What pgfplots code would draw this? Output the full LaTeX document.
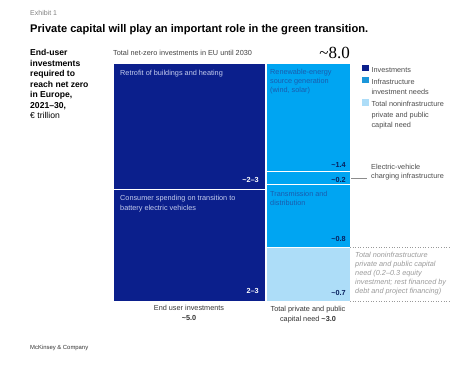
\documentclass[border=0pt]{standalone}
\usepackage{fontspec}
\setmainfont{Liberation Sans}
\newfontfamily\seriffont{Liberation Serif}
\usepackage{pgfplots}
\pgfplotsset{compat=1.18}
\definecolor{navy}{HTML}{0B1F8C}
\definecolor{cyanb}{HTML}{00A5F2}
\definecolor{lightb}{HTML}{ADDDF8}
\definecolor{legb}{HTML}{1B97DA}
\definecolor{txtin}{HTML}{C5CDEE}
\definecolor{txtblue}{HTML}{1A5CAD}
\definecolor{valdark}{HTML}{08205E}
\definecolor{anngray}{HTML}{9A9A9A}
\newcommand{\sm}{\fontsize{7.3}{9}\selectfont}
\begin{document}
\begin{tikzpicture}[x=1pt,y=1pt]
\useasboundingbox (0,0) rectangle (474,368);
\begin{axis}[at={(113pt,67pt)}, anchor=south west, width=237pt, height=238pt,
  scale only axis, xmin=0, xmax=237, ymin=0, ymax=100, hide axis, clip=false,
  legend style={at={(1.0506,0.993)}, anchor=north west, draw=none, fill=none,
    font=\fontsize{7.3}{9}\selectfont, text=black!70, row sep=2.4pt, inner sep=0pt,
    cells={anchor=west}, nodes={inner sep=0pt, text height=6pt, text depth=1.8pt},
    /tikz/every odd column/.append style={column sep=3.5pt}}]
% End user investments column (percent of column height)
\addplot[forget plot, fill=navy, draw=white, line width=0.8pt] coordinates {(0,0) (152,0) (152,47) (0,47)} -- cycle;
\addplot[forget plot, fill=navy, draw=white, line width=0.8pt] coordinates {(0,47) (152,47) (152,100) (0,100)} -- cycle;
% Total private and public capital need column
\addplot[forget plot, fill=lightb, draw=white, line width=0.8pt] coordinates {(153,0) (237,0) (237,22.7) (153,22.7)} -- cycle;
\addplot[forget plot, fill=cyanb, draw=white, line width=0.8pt] coordinates {(153,22.7) (237,22.7) (237,48.8) (153,48.8)} -- cycle;
\addplot[forget plot, fill=cyanb, draw=white, line width=0.8pt] coordinates {(153,48.8) (237,48.8) (237,54.3) (153,54.3)} -- cycle;
\addplot[forget plot, fill=cyanb, draw=white, line width=0.8pt] coordinates {(153,54.3) (237,54.3) (237,100) (153,100)} -- cycle;
\addlegendimage{legend image code/.code={\fill[navy] (0pt,0pt) rectangle (5.5pt,5.5pt);}}
\addlegendentry{Investments}
\addlegendimage{legend image code/.code={\fill[legb] (0pt,0pt) rectangle (5.5pt,5.5pt);}}
\addlegendentry{Infrastructure}
\addlegendimage{empty legend}
\addlegendentry{investment needs}
\addlegendimage{legend image code/.code={\fill[lightb] (0pt,0pt) rectangle (5.5pt,5.5pt);}}
\addlegendentry{Total noninfrastructure}
\addlegendimage{empty legend}
\addlegendentry{private and public}
\addlegendimage{empty legend}
\addlegendentry{capital need}
\end{axis}
% header
\node[anchor=west, inner sep=0, text=black!50, font=\fontsize{7}{8}\selectfont] at (30,355.5) {Exhibit 1};
\node[anchor=west, inner sep=0, font=\fontsize{11.1}{13}\bfseries] at (30,338) {Private capital will play an important role in the green transition.};
\node[anchor=north west, inner sep=0, align=left, font=\fontsize{8.6}{10.45}\selectfont] at (30,318.5)
  {\textbf{End-user}\\\textbf{investments}\\\textbf{required to}\\\textbf{reach net zero}\\\textbf{in Europe,}\\\textbf{2021--30,}\\€ trillion};
\node[anchor=west, inner sep=0, text=black!75, font=\sm] at (113,315) {Total net-zero investments in EU until 2030};
\node[anchor=base east, inner sep=0, font=\seriffont\fontsize{17}{18}\selectfont] at (350,310) {\textasciitilde8.0};
% navy column labels
\node[anchor=west, inner sep=0, text=txtin, font=\sm] at (120,294) {Retrofit of buildings and heating};
\node[anchor=base east, inner sep=0, text=white, font=\sm\bfseries] at (259,186) {\textasciitilde2--3};
\node[anchor=north west, inner sep=0, align=left, text=txtin, font=\fontsize{7.3}{9.8}\selectfont] at (120,172.5) {Consumer spending on transition to\\battery electric vehicles};
\node[anchor=base east, inner sep=0, text=white, font=\sm\bfseries] at (259,75) {2--3};
% cyan column labels
\node[anchor=north west, inner sep=0, align=left, text=txtblue, font=\sm] at (270,299) {Renewable-energy\\source generation\\(wind, solar)};
\node[anchor=base east, inner sep=0, text=valdark, font=\sm\bfseries] at (346,201) {\textasciitilde1.4};
\node[anchor=base east, inner sep=0, text=valdark, font=\sm\bfseries] at (346,186) {\textasciitilde0.2};
\node[anchor=north west, inner sep=0, align=left, text=txtblue, font=\sm] at (270,177) {Transmission and\\distribution};
\node[anchor=base east, inner sep=0, text=valdark, font=\sm\bfseries] at (346,127) {\textasciitilde0.8};
\node[anchor=base east, inner sep=0, text=valdark, font=\sm\bfseries] at (346,72.5) {\textasciitilde0.7};
% annotations
\draw[black!45, line width=0.5pt] (351,190) -- (367,190);
\node[anchor=north west, inner sep=0, align=left, text=black!70, font=\fontsize{7.3}{8.7}\selectfont] at (371,203.5) {Electric-vehicle\\charging infrastructure};
\draw[black!40, dotted, line width=0.6pt] (350,121) -- (451,121);
\draw[black!40, dotted, line width=0.6pt] (350,66.5) -- (451,66.5);
\node[anchor=north west, inner sep=0, align=left, text=anngray, font=\fontsize{7.3}{8.8}\selectfont\itshape] at (355,115.5)
  {Total noninfrastructure\\private and public capital\\need (0.2--0.3 equity\\investment; rest financed by\\debt and project financing)};
% bottom labels
\node[anchor=north, inner sep=0, align=center, text=black!80, font=\fontsize{7.3}{10}\selectfont] at (189,62.5) {End user investments\\\textbf{\textasciitilde5.0}};
\node[anchor=north, inner sep=0, align=center, text=black!80, font=\fontsize{7.3}{10}\selectfont] at (308,62) {Total private and public\\capital need \textbf{\textasciitilde3.0}};
\node[anchor=west, inner sep=0, text=black!80, font=\fontsize{5.9}{7}\selectfont] at (30,20) {McKinsey \& Company};
\end{tikzpicture}
\end{document}
